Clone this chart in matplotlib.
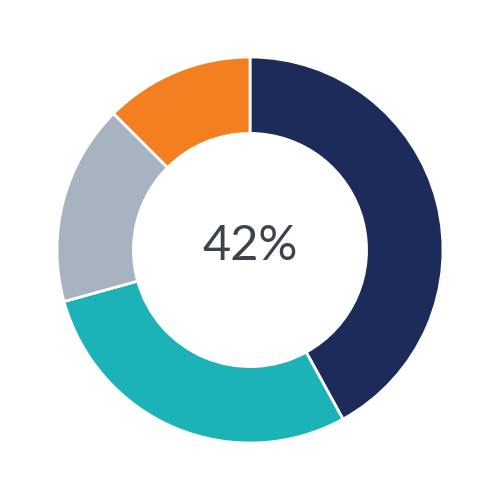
import matplotlib.pyplot as plt

segments = ['Navy', 'Teal', 'Gray', 'Orange']
shares = [42, 28.7, 16.8, 12.5]
colors = ['#1c2b59', '#1bb3b7', '#a8b3c2', '#f37f20']
center_label = '42%'

fig = plt.figure(figsize=(5, 5), dpi=100)
ax = fig.add_axes([0, 0, 1, 1])
ax.pie(shares, colors=colors, startangle=90, counterclock=False,
       radius=1.0,
       wedgeprops=dict(width=0.396, edgecolor='white', linewidth=2))
ax.text(0, 0.02, center_label, ha='center', va='center', fontsize=35,
        color='#3d434b', family=['Lato', 'DejaVu Sans'], fontweight='normal')
lim = 250 / 193
ax.set_xlim(-lim, lim)
ax.set_ylim(-lim, lim)
ax.set_aspect('equal')
ax.axis('off')
fig.savefig('out.png', dpi=100, facecolor='white')
